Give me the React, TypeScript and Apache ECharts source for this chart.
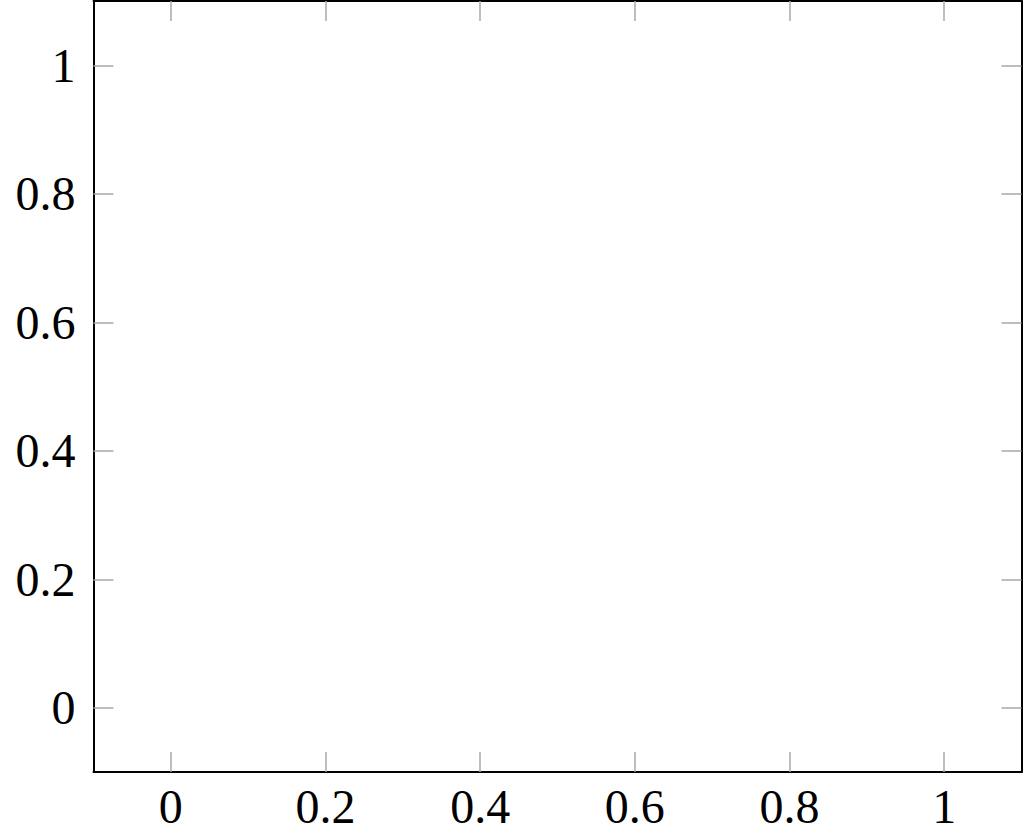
import { useEffect, useRef } from 'react';
import * as echarts from 'echarts';

// axis ranges and tick positions
const xRange = [-0.1, 1.1];
const yRange = [-0.1, 1.1];
const xTicks = [0, 0.2, 0.4, 0.6, 0.8, 1];
const yTicks = [0, 0.2, 0.4, 0.6, 0.8, 1];

const font = 'Liberation Serif';
const tickColor = '#a8a8a8';

export default function App() {
  const chartRef = useRef<HTMLDivElement>(null);

  useEffect(() => {
    if (!chartRef.current) return;
    const chart = echarts.init(chartRef.current, null, { renderer: 'svg' });

    const tick = {
      show: true,
      inside: true,
      length: 20,
      lineStyle: { color: tickColor, width: 1.5 },
    };
    const line = { show: true, lineStyle: { color: '#000', width: 2 } };

    chart.setOption({
      animation: false,
      backgroundColor: '#fff',
      grid: { left: 93.5, top: 1, width: 928, height: 771, containLabel: false },
      xAxis: [
        {
          type: 'value',
          min: xRange[0],
          max: xRange[1],
          position: 'bottom',
          axisLine: { ...line, onZero: false },
          axisTick: { ...tick, customValues: xTicks },
          axisLabel: {
            customValues: xTicks,
            formatter: (v: number) => String(v),
            fontFamily: font,
            fontSize: 48,
            color: '#000',
            margin: 10,
          },
          splitLine: { show: false },
        },
        {
          type: 'value',
          min: xRange[0],
          max: xRange[1],
          position: 'top',
          axisLine: { ...line, onZero: false },
          axisTick: { ...tick, customValues: xTicks },
          axisLabel: { show: false },
          splitLine: { show: false },
        },
      ],
      yAxis: [
        {
          type: 'value',
          min: yRange[0],
          max: yRange[1],
          position: 'left',
          axisLine: { ...line, onZero: false },
          axisTick: { ...tick, customValues: yTicks },
          axisLabel: {
            customValues: yTicks,
            formatter: (v: number) => String(v),
            fontFamily: font,
            fontSize: 48,
            color: '#000',
            margin: 18,
          },
          splitLine: { show: false },
        },
        {
          type: 'value',
          min: yRange[0],
          max: yRange[1],
          position: 'right',
          axisLine: { ...line, onZero: false },
          axisTick: { ...tick, customValues: yTicks },
          axisLabel: { show: false },
          splitLine: { show: false },
        },
      ],
      series: [],
    });

    return () => {
      chart.dispose();
    };
  }, []);

  return (
    <div
      ref={chartRef}
      style={{ position: 'fixed', left: 0, top: 0, width: '1024px', height: '836px' }}
    />
  );
}
